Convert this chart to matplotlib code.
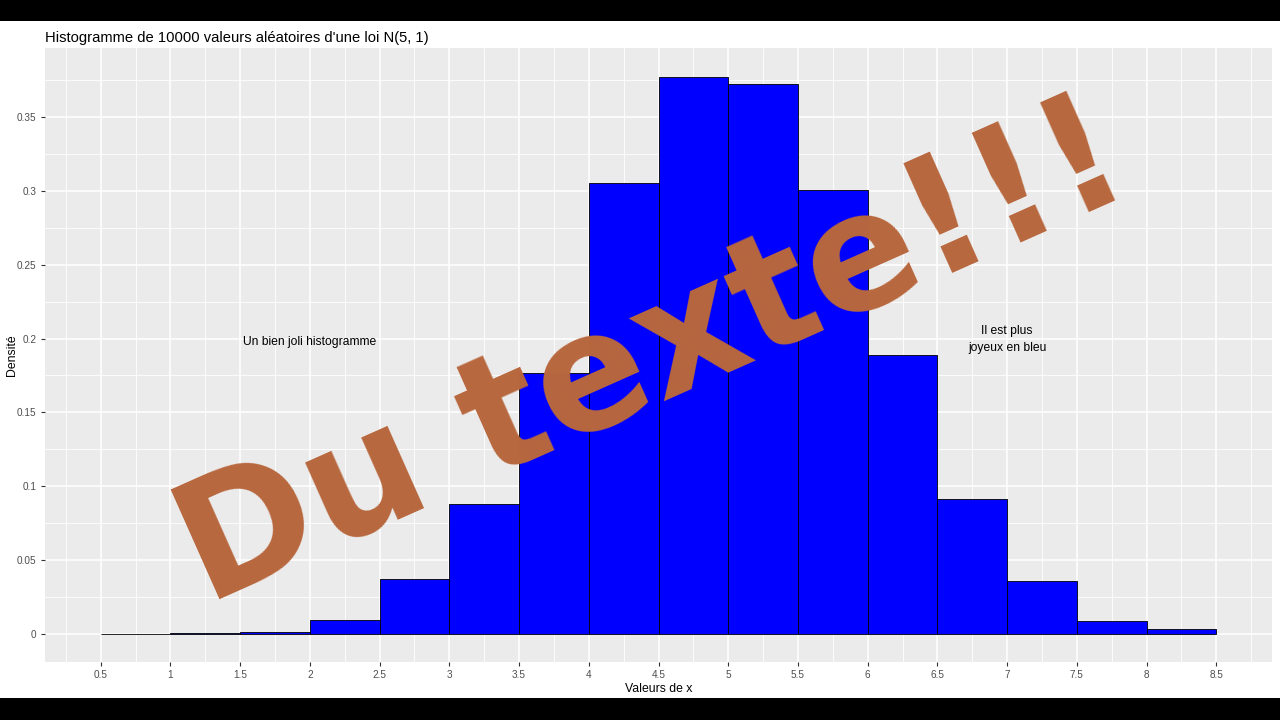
import numpy as np
import matplotlib
matplotlib.use("Agg")
import matplotlib.pyplot as plt
from matplotlib.ticker import MultipleLocator, FuncFormatter
from matplotlib.patches import Rectangle

# histogram of 10000 draws from N(5, 1), bin width 0.5, density scale
bin_left = [0.5, 1.0, 1.5, 2.0, 2.5, 3.0, 3.5, 4.0, 4.5, 5.0, 5.5, 6.0, 6.5, 7.0, 7.5, 8.0]
density = [0.0002, 0.0004, 0.0015, 0.0095, 0.0372, 0.0880, 0.1767, 0.3053,
           0.3770, 0.3724, 0.3006, 0.1889, 0.0914, 0.0359, 0.0088, 0.0034]
bin_width = 0.5

title = "Histogramme de 10000 valeurs aléatoires d'une loi N(5, 1)"
x_label = "Valeurs de x"
y_label = "Densité"
note_left = "Un bien joli histogramme"
note_right = "Il est plus\njoyeux en bleu"
big_text = "Du texte!!!"

plt.rcParams['font.family'] = ['Liberation Sans', 'DejaVu Sans']

fig = plt.figure(figsize=(12.8, 7.2), dpi=100, facecolor="black")
# white band between the black letterbox bars
fig.patches.append(Rectangle((0, 22 / 720), 1, 677 / 720, transform=fig.transFigure,
                             facecolor="white", edgecolor="none", zorder=-5))

ax = fig.add_axes([45 / 1280, 1 - 662 / 720, 1227 / 1280, 614 / 720])
ax.set_facecolor("#EBEBEB")
for s in ax.spines.values():
	s.set_visible(False)

ax.bar(bin_left, density, width=bin_width, align="edge", color="#0000FF",
       edgecolor="black", linewidth=0.6, zorder=2)

ax.set_xlim(0.1, 8.9)
ax.set_ylim(-0.019, 0.3967)

ax.xaxis.set_major_locator(MultipleLocator(0.5))
ax.xaxis.set_minor_locator(MultipleLocator(0.25))
ax.yaxis.set_major_locator(MultipleLocator(0.05))
ax.yaxis.set_minor_locator(MultipleLocator(0.025))
fmt = FuncFormatter(lambda v, p: f"{v:g}")
ax.xaxis.set_major_formatter(fmt)
ax.yaxis.set_major_formatter(fmt)

ax.grid(which="major", color="white", linewidth=1.1, zorder=0)
ax.grid(which="minor", color="white", linewidth=0.6, zorder=0)
ax.set_axisbelow(True)
ax.tick_params(which="major", length=3, width=0.8, color="#333333",
               labelcolor="#4D4D4D", labelsize=7.2, pad=3)
ax.tick_params(which="minor", length=0)

ax.set_xlabel(x_label, fontsize=8.8, color="black", labelpad=2)
ax.set_ylabel(y_label, fontsize=8.8, color="black", labelpad=-1)
ax.set_title(title, loc="left", fontsize=10.6, color="black", pad=4.5)

ax.annotate(note_left, (2, 0.2), xytext=(0, -3), textcoords="offset pixels",
            ha="center", va="center", fontsize=8.7, zorder=3)
ax.annotate(note_right, (7, 0.2), xytext=(0, -1), textcoords="offset pixels",
            ha="center", va="center", fontsize=8.7, linespacing=1.6, zorder=3)

ax.text(4.46, 0.188, big_text, ha="center", va="center", rotation=24,
        rotation_mode="anchor", fontsize=118, fontweight="bold",
        family="DejaVu Sans", color="#B8673D", zorder=4)

fig.savefig("out.png", dpi=100, facecolor=fig.get_facecolor())
